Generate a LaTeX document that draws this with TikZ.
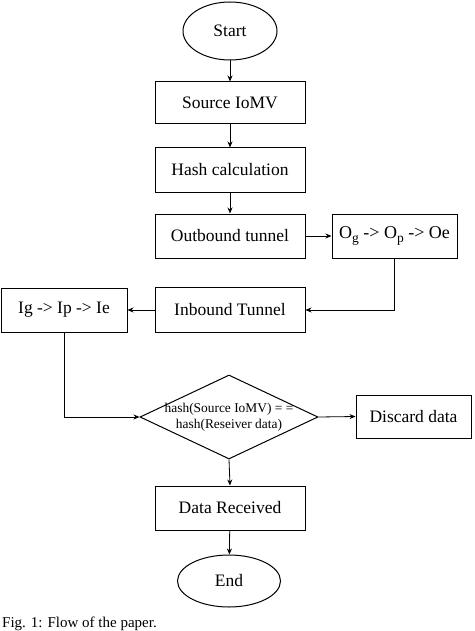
\documentclass[tikz,border=0pt]{standalone}
\usepackage{fontspec}
\setmainfont{Liberation Serif}
\usetikzlibrary{shapes.geometric,arrows.meta}
\newcommand{\lowsub}[1]{\raisebox{-3.5pt}{\fontsize{13.5}{14}\selectfont #1}}
\begin{document}
\begin{tikzpicture}[x=1pt,y=-1pt,
  box/.style={draw,line width=1pt,minimum width=150pt,minimum height=44pt,inner sep=0pt,font=\fontsize{17.5}{20}\selectfont},
  oval/.style={draw,line width=1pt,ellipse,inner sep=0pt,font=\fontsize{17.5}{20}\selectfont},
  arr/.style={line width=0.8pt,-{Stealth[length=6pt,width=5pt]}},
  ln/.style={line width=0.8pt}]
\useasboundingbox (0,0) rectangle (474,631);
\node[oval,minimum width=94pt,minimum height=58pt] (start) at (230,31) {Start};
\node[box,minimum height=42pt] (source) at (230,103) {Source IoMV};
\node[box] (hash) at (230,170) {Hash calculation};
\node[box] (out) at (230,236) {Outbound tunnel};
\node[box,minimum width=125pt,font=\fontsize{18}{20}\selectfont] (og) at (394.5,236) {O\lowsub{g} -> O\lowsub{p} -> Oe};
\node[box,minimum height=45pt] (in) at (230,310) {Inbound Tunnel};
\node[box,minimum width=126pt] (ig) at (64,310) {Ig -> Ip -> Ie};
\node[draw,line width=1pt,diamond,minimum width=178pt,minimum height=84pt,inner sep=0pt] (dec) at (229,417) {};
\node[font=\fontsize{13.4}{16}\selectfont,align=center] (dectext) at (229,417) {hash(Source IoMV) = =\\hash(Reseiver data)};
\node[box,minimum width=115pt,minimum height=43pt] (discard) at (413.5,416.5) {Discard data};
\node[box] (data) at (230,508) {Data Received};
\node[oval,minimum width=103pt,minimum height=52pt] (end) at (229,581) {End};
\node[anchor=base west,inner sep=0pt,font=\fontsize{15}{18}\selectfont] (cap) at (2,627.5) {Fig. 1: Flow of the paper.};
\draw[arr] (start) -- (source);
\draw[arr] (source) -- (hash);
\draw[arr] (hash) -- (out);
\draw[arr] (out) -- (og);
\draw[arr] (og.south) |- (in.east);
\draw[arr] (in) -- (ig);
\draw[arr] (ig.south) |- (dec.west);
\draw[arr] (dec.east) -- (discard.west);
\draw[arr] (dec.south) -- (data.north);
\draw[arr] (data) -- (end);
\end{tikzpicture}
\end{document}
